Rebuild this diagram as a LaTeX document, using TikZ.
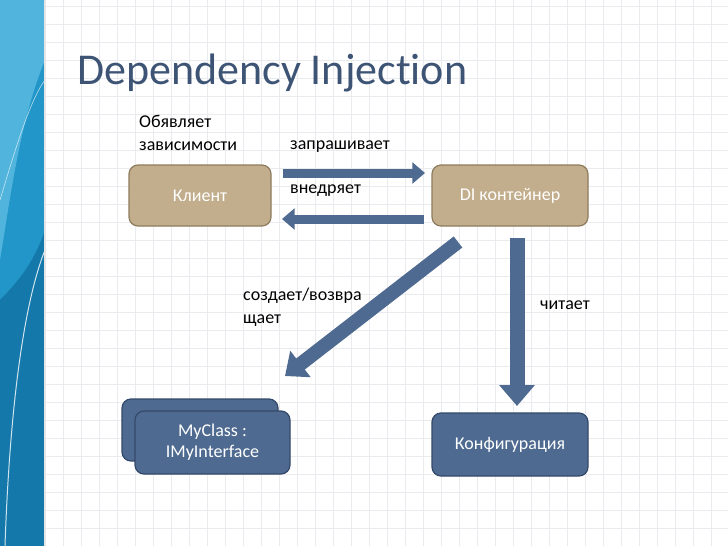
\documentclass[tikz,border=0pt]{standalone}
\usepackage{fontspec}
\setmainfont[Ligatures={NoCommon}]{Carlito}
\usetikzlibrary{arrows.meta}
\definecolor{tan}{HTML}{C2AD8C}
\definecolor{tanb}{HTML}{8E7C5E}
\definecolor{nb}{HTML}{4E6A90}
\definecolor{nbb}{HTML}{34496A}
\definecolor{ttl}{HTML}{3D5475}
\definecolor{grd}{HTML}{E9EBEE}
\begin{document}
\begin{tikzpicture}[x=1pt,y=-1pt,
  box/.style={draw,line width=1.2pt,rounded corners=9pt,text=white,font=\fontsize{18}{21}\selectfont,align=center,inner sep=0pt},
  tbox/.style={box,fill=tan,draw=tanb},
  bbox/.style={box,fill=nb,draw=nbb},
  lbl/.style={font=\fontsize{18}{23}\selectfont,align=left,anchor=north west,inner sep=0pt},
  barrow/.style={draw=nb,line width=#1,-{Triangle[width=2.3*#1,length=1.4*#1]}},
  barrow/.default=10pt]
\useasboundingbox (0,0) rectangle (728,546);
\fill[white] (0,0) rectangle (728,546);
\foreach \x in {45,63,...,728} \draw[grd,line width=0.6pt] (\x,0) -- (\x,546);
\foreach \y in {6,24,...,546} \draw[grd,line width=0.6pt] (45,\y) -- (728,\y);
% left stripe
\fill[color={rgb,255:red,34;green,150;blue,200}] (0,0) rectangle (45,546);
\fill[color={rgb,255:red,80;green,180;blue,220}] (0,0) -- (45,0) -- (45,60) .. controls (20,120) and (10,200) .. (0,260) -- cycle;
\fill[color={rgb,255:red,20;green,120;blue,170}] (0,300) .. controls (20,280) and (35,260) .. (45,230) -- (45,546) -- (0,546) -- cycle;
\draw[white,line width=1pt,opacity=0.8] (5,546) .. controls (10,400) and (25,300) .. (45,250);
\draw[white,line width=0.7pt,opacity=0.6] (0,200) .. controls (15,150) and (30,100) .. (45,80);
\draw[white!80!gray,line width=2pt] (45,0) -- (45,546);

\node[anchor=base west,text=ttl,font=\fontsize{44}{46}\selectfont,inner sep=0pt] (title) at (77,84) {Dependency Injection};

\node[tbox,minimum width=142pt,minimum height=61pt] (client) at (200,195.5) {Клиент};
\node[tbox,minimum width=156pt,minimum height=61pt] (di) at (510,195.5) {DI контейнер};
\node[bbox,minimum width=156pt,minimum height=62pt] (back) at (200,430) {};
\node[bbox,minimum width=155pt,minimum height=63pt] (my) at (212.5,442.5) {MyClass :\\IMyInterface};
\node[bbox,minimum width=156pt,minimum height=63pt] (conf) at (510,444.5) {Конфигурация};

\node[lbl] (l1) at (139,115) {Обявляет\\зависимости};
\node[lbl] (l2) at (290,141) {запрашивает};
\node[lbl] (l3) at (290,185) {внедряет};
\node[lbl] (l4) at (243,288) {создает/возвра\\щает};
\node[lbl] (l5) at (540,301) {читает};

\coordinate (a1s) at (283,173); \coordinate (a1e) at (425,173);
\coordinate (a2s) at (424,219); \coordinate (a2e) at (282,219);
\coordinate (a3s) at (517,238); \coordinate (a3e) at (517,406);
\coordinate (a4s) at (458,242); \coordinate (a4e) at (285,376);
\draw[barrow=9pt] (a1s) -- (a1e);
\draw[barrow=9pt] (a2s) -- (a2e);
\draw[barrow=15pt] (a3s) -- (a3e);
\draw[barrow=14pt] (a4s) -- (a4e);
\end{tikzpicture}
\end{document}
